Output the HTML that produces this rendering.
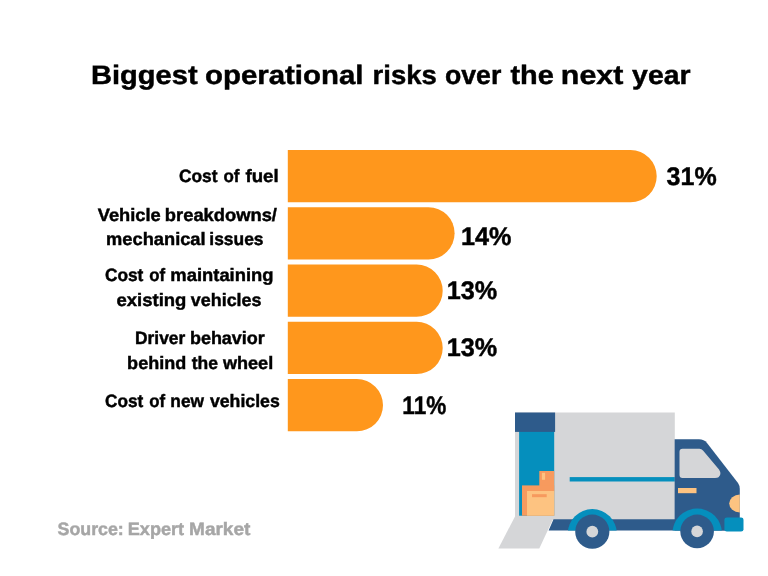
<!DOCTYPE html>
<html lang="en"><head><meta charset="utf-8"><title>Biggest operational risks over the next year</title>
<style>
html,body{margin:0;padding:0;background:#fff}
body{width:768px;height:576px;overflow:hidden}
svg{display:block}
text{font-family:"Liberation Sans",sans-serif;font-weight:bold;stroke-width:0.45;text-rendering:geometricPrecision}
</style></head><body>
<svg width="768" height="576" viewBox="0 0 768 576">
<g fill="#ff971c"><path d="M287.8 150 H630.55 A26.15 26.15 0 0 1 630.55 202.30 H287.8 Z"/><path d="M287.8 207.2 H428.45 A26.15 26.15 0 0 1 428.45 259.50 H287.8 Z"/><path d="M287.8 264.5 H416.55 A26.15 26.15 0 0 1 416.55 316.80 H287.8 Z"/><path d="M287.8 321.8 H416.55 A26.15 26.15 0 0 1 416.55 374.10 H287.8 Z"/><path d="M287.8 379.0 H356.85 A26.15 26.15 0 0 1 356.85 431.30 H287.8 Z"/></g>
<defs><clipPath id="ac"><rect x="540" y="500" width="200" height="30.4"/></clipPath></defs>
<!-- cargo box -->
<rect x="515" y="412.5" width="159.8" height="107.3" fill="#d5d6d8"/>
<!-- interior -->
<rect x="519.1" y="431" width="35.1" height="84.7" fill="#058fbd"/>
<rect x="515" y="412.5" width="40.1" height="19.4" fill="#2e5b8b"/>
<!-- boxes -->
<rect x="539.3" y="471" width="14.9" height="20.5" fill="#f79a5e"/>
<rect x="541.9" y="472.8" width="3.2" height="7" fill="#fdc381"/>
<rect x="522" y="485.4" width="32.2" height="30.3" fill="#f79a5e"/>
<rect x="527" y="491" width="27.2" height="24.7" fill="#fdc381"/>
<rect x="532" y="494.2" width="14.7" height="3" fill="#f79a5e"/>
<!-- stripe -->
<rect x="569.7" y="477.1" width="105.1" height="4.4" fill="#058fbd"/>
<!-- chassis -->
<polygon points="553.5,519.3 730,519.3 730,530.4 548.6,530.4" fill="#2e5b8b"/>
<!-- ramp -->
<polygon points="515,516.4 554.2,516.4 539.3,548.6 498.4,548.6" fill="#d5d6d8"/>
<!-- cab -->
<path d="M674.6 439.3 H699 Q704 439.3 707 443 L738 483 Q739.8 485.5 739.8 489 V530.4 H674.6 Z" fill="#2e5b8b"/>
<path d="M682.5 448.7 H699.5 Q701.5 448.7 703 450.5 L719 469.5 Q722 474 718.5 477.3 Q717.5 478 715 478 H682.5 Q679.5 478 679.5 475 V451.7 Q679.5 448.7 682.5 448.7 Z" fill="#d5d6d8"/>
<rect x="678" y="488" width="18.5" height="5.2" fill="#fdc381"/>
<path d="M739.8 494.5 A10.6 9 0 0 0 739.8 512.5 Z" fill="#fdc381"/>
<rect x="724.4" y="517.4" width="19.1" height="14.2" rx="2.4" fill="#058fbd"/>
<!-- wheel arches -->
<g clip-path="url(#ac)">
<circle cx="592.3" cy="533.6" r="24.5" fill="#058fbd"/>
<circle cx="697.2" cy="533.4" r="24.8" fill="#058fbd"/>
</g>
<!-- wheels -->
<circle cx="592.3" cy="531.7" r="17.1" fill="#2e5b8b"/>
<circle cx="592.3" cy="531.7" r="5.9" fill="#d5d6d8"/>
<circle cx="697.1" cy="531.4" r="16.8" fill="#2e5b8b"/>
<circle cx="697.1" cy="531.4" r="5.8" fill="#d5d6d8"/>
<g>
<text y="84" font-size="26.7" fill="#000" stroke="#000"><tspan x="91.10" textLength="106.47" lengthAdjust="spacingAndGlyphs">Biggest</tspan> <tspan x="205.01" textLength="158.50" lengthAdjust="spacingAndGlyphs">operational</tspan> <tspan x="372.63" textLength="64.18" lengthAdjust="spacingAndGlyphs">risks</tspan> <tspan x="445.02" textLength="56.25" lengthAdjust="spacingAndGlyphs">over</tspan> <tspan x="510.40" textLength="43.35" lengthAdjust="spacingAndGlyphs">the</tspan> <tspan x="560.87" textLength="62.43" lengthAdjust="spacingAndGlyphs">next</tspan> <tspan x="632.13" textLength="58.33" lengthAdjust="spacingAndGlyphs">year</tspan></text>
<text y="182" font-size="17.9" fill="#000" stroke="#000"><tspan x="179.03" textLength="38.47" lengthAdjust="spacingAndGlyphs">Cost</tspan> <tspan x="223.50" textLength="15.97" lengthAdjust="spacingAndGlyphs">of</tspan> <tspan x="245.56" textLength="33.11" lengthAdjust="spacingAndGlyphs">fuel</tspan></text>
<text y="221" font-size="17.9" fill="#000" stroke="#000"><tspan x="97.75" textLength="63.01" lengthAdjust="spacingAndGlyphs">Vehicle</tspan> <tspan x="164.87" textLength="112.08" lengthAdjust="spacingAndGlyphs">breakdowns/</tspan></text>
<text y="245" font-size="17.9" fill="#000" stroke="#000"><tspan x="106.10" textLength="99.53" lengthAdjust="spacingAndGlyphs">mechanical</tspan> <tspan x="209.33" textLength="54.17" lengthAdjust="spacingAndGlyphs">issues</tspan></text>
<text y="281" font-size="17.9" fill="#000" stroke="#000"><tspan x="104.93" textLength="38.46" lengthAdjust="spacingAndGlyphs">Cost</tspan> <tspan x="149.28" textLength="15.85" lengthAdjust="spacingAndGlyphs">of</tspan> <tspan x="170.35" textLength="103.19" lengthAdjust="spacingAndGlyphs">maintaining</tspan></text>
<text y="306" font-size="17.9" fill="#000" stroke="#000"><tspan x="116.56" textLength="69.85" lengthAdjust="spacingAndGlyphs">existing</tspan> <tspan x="190.86" textLength="70.58" lengthAdjust="spacingAndGlyphs">vehicles</tspan></text>
<text y="344" font-size="17.9" fill="#000" stroke="#000"><tspan x="135.10" textLength="50.13" lengthAdjust="spacingAndGlyphs">Driver</tspan> <tspan x="189.93" textLength="74.91" lengthAdjust="spacingAndGlyphs">behavior</tspan></text>
<text y="369" font-size="17.9" fill="#000" stroke="#000"><tspan x="127.14" textLength="59.10" lengthAdjust="spacingAndGlyphs">behind</tspan> <tspan x="191.66" textLength="26.25" lengthAdjust="spacingAndGlyphs">the</tspan> <tspan x="222.95" textLength="50.24" lengthAdjust="spacingAndGlyphs">wheel</tspan></text>
<text y="407" font-size="17.9" fill="#000" stroke="#000"><tspan x="105.11" textLength="38.21" lengthAdjust="spacingAndGlyphs">Cost</tspan> <tspan x="149.28" textLength="15.85" lengthAdjust="spacingAndGlyphs">of</tspan> <tspan x="170.33" textLength="33.60" lengthAdjust="spacingAndGlyphs">new</tspan> <tspan x="209.91" textLength="69.89" lengthAdjust="spacingAndGlyphs">vehicles</tspan></text>
<text y="185" font-size="25.4" fill="#000" stroke="#000"><tspan x="666.61" textLength="50.03" lengthAdjust="spacingAndGlyphs">31%</tspan></text>
<text y="245" font-size="25.4" fill="#000" stroke="#000"><tspan x="460.93" textLength="50.41" lengthAdjust="spacingAndGlyphs">14%</tspan></text>
<text y="299" font-size="25.4" fill="#000" stroke="#000"><tspan x="446.85" textLength="50.43" lengthAdjust="spacingAndGlyphs">13%</tspan></text>
<text y="356" font-size="25.4" fill="#000" stroke="#000"><tspan x="446.85" textLength="50.43" lengthAdjust="spacingAndGlyphs">13%</tspan></text>
<text y="414" font-size="25.4" fill="#000" stroke="#000"><tspan x="402.36" textLength="43.87" lengthAdjust="spacingAndGlyphs">11%</tspan></text>
<text y="535" font-size="17.9" fill="#a6a6a6" stroke="#a6a6a6"><tspan x="57.50" textLength="66.32" lengthAdjust="spacingAndGlyphs">Source:</tspan> <tspan x="127.74" textLength="56.37" lengthAdjust="spacingAndGlyphs">Expert</tspan> <tspan x="189.06" textLength="61.33" lengthAdjust="spacingAndGlyphs">Market</tspan></text>
</g>
</svg>
</body></html>
